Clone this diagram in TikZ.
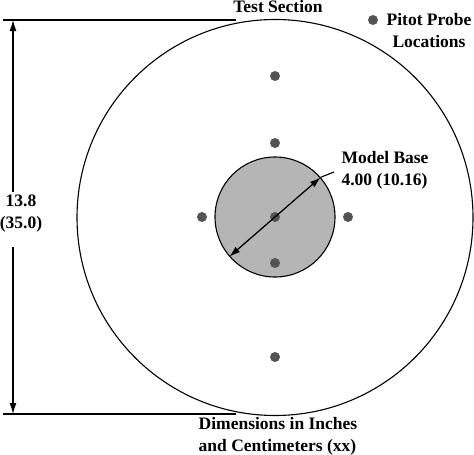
\documentclass[tikz,border=0pt]{standalone}
\usepackage{fontspec}
\setmainfont{Liberation Serif}
\usetikzlibrary{arrows.meta}

\definecolor{probegray}{gray}{0.33}
\definecolor{basegray}{gray}{0.71}

\begin{document}
\begin{tikzpicture}[x=1pt, y=-1pt, line width=1.1pt,
    font=\bfseries\fontsize{17.5}{22}\selectfont,
    probe/.style={circle, fill=probegray, inner sep=0pt, minimum size=10pt},
    dimline/.style={-{Latex[length=11pt, width=7pt]}, line width=1.3pt},
    diamline/.style={{Latex[length=11pt, width=7pt]}-{Latex[length=11pt, width=7pt]}, line width=1.3pt}]
    \useasboundingbox (0,0) rectangle (474,455);
    % test section and model base
    \node (section) [circle, draw, inner sep=0pt, minimum size=396pt] at (275,217.5) {};
    \node (base) [circle, draw, fill=basegray, inner sep=0pt, minimum size=120pt] at (275,217) {};
    % pitot probes
    \node (p1) [probe] at (275,76) {};
    \node (p2) [probe] at (275,143) {};
    \node (p3) [probe] at (202,217) {};
    \node (p4) [probe] at (275,217) {};
    \node (p5) [probe] at (348,217) {};
    \node (p6) [probe] at (275,263) {};
    \node (p7) [probe] at (275,357) {};
    \node (legend) [probe] at (373,20) {};
    % labels
    \node (title) at (278,7) {Test Section};
    \node (probes) [align=center] at (429,31) {Pitot Probe\\Locations};
    \node (model) [align=left] at (385,170) {Model Base\\4.00 (10.16)};
    \node (units) [align=left] at (278,436) {Dimensions in Inches\\and Centimeters (xx)};
    \node (dim) [align=center] at (21,214) {13.8\\(35.0)};
    % dimension lines
    \coordinate (tl) at (3,20);
    \coordinate (tr) at (236,20);
    \coordinate (bl) at (3,414);
    \coordinate (br) at (236,414);
    \coordinate (up) at (13,20);
    \coordinate (down) at (13,414);
    \coordinate (dimtop) at (13,192);
    \coordinate (dimbot) at (13,247);
    \coordinate (lead) at (334,172);
    \path
    (tl) edge (tr)
    (bl) edge (br)
    (dimtop) edge[dimline] (up)
    (dimbot) edge[dimline] (down)
    (base.221) edge[diamline] (base.41)
    (base.41) edge (lead)
    ;
  \end{tikzpicture}
\end{document}
